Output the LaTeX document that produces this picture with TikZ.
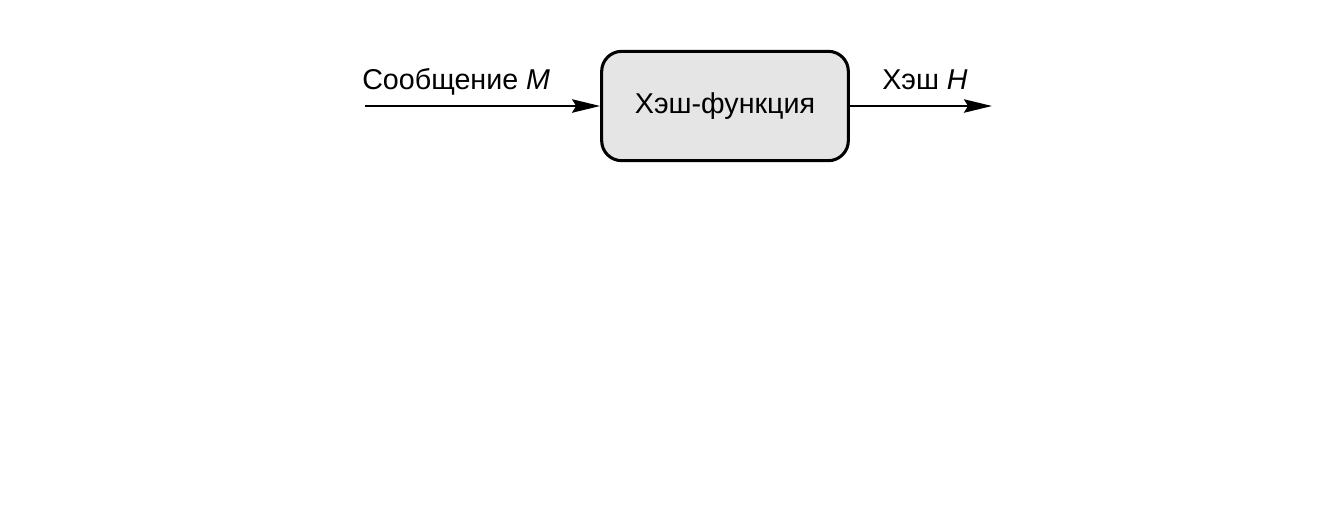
\documentclass[tikz,border=0pt]{standalone}
\usepackage{fontspec}
\setmainfont{Liberation Sans}
\usetikzlibrary{positioning}
\usetikzlibrary{arrows.meta}

\begin{document}
\begin{tikzpicture}[x=0.75pt,y=0.75pt,line join=round,
  hashbox/.style={draw,line width=2.3pt,rounded corners=15pt,fill=black!10,
    minimum width=185pt,minimum height=82pt,font=\fontsize{21.5}{24}\selectfont},
  flow/.style={line width=1.8pt,-{Stealth[length=21pt,width=10pt,inset=3pt]}},
  lbl/.style={inner sep=0pt,font=\fontsize{21.5}{24}\selectfont}]
\useasboundingbox (0,0) rectangle (1330,-512);
\node[hashbox] (hash) at (725,-106) {Хэш-функция};
\coordinate (msg) at (365,-106);
\coordinate (out) at (992,-106);
\draw[flow] (msg) -- (hash);
\draw[flow] (hash) -- (out);
\node[lbl,anchor=base west] (msglbl) at (362,-89) {Сообщение \textit{M}};
\node[lbl,anchor=base west] (outlbl) at (882,-89) {Хэш \textit{H}};
\end{tikzpicture}
\end{document}
